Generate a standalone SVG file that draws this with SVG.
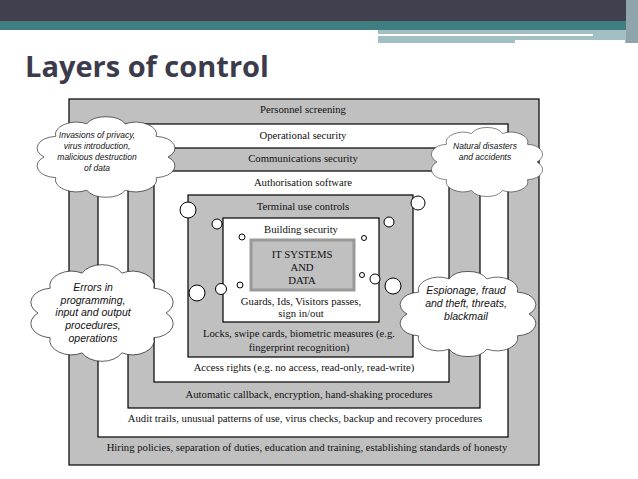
<svg xmlns="http://www.w3.org/2000/svg" width="638" height="479" viewBox="0 0 638 479">
<style>
.g{fill:#c0c0c0;stroke:#000;stroke-width:1.2}
.w{fill:#fff;stroke:#000;stroke-width:1.2}
.t{font-family:"Liberation Serif",serif;font-size:10.7px;fill:#111;text-anchor:middle}
.c{font-family:"Liberation Sans",Arial,sans-serif;font-style:italic;fill:#111;text-anchor:middle}
.cl{fill:#fff;stroke:#000;stroke-width:1.2}
.b{fill:#fff;stroke:#000;stroke-width:1}
</style>
<defs>
<path id="cloud" d="M100,0 A34,34 0 0 1 81,59 A34,34 0 0 1 31,95 A34,34 0 0 1 -31,95 A34,34 0 0 1 -81,59 A34,34 0 0 1 -100,0 A34,34 0 0 1 -81,-59 A34,34 0 0 1 -31,-95 A34,34 0 0 1 31,-95 A34,34 0 0 1 81,-59 A34,34 0 0 1 100,0 Z"/>
</defs>
<rect width="638" height="479" fill="#fff"/>
<g id="header">
<rect x="0" y="0" width="638" height="21" fill="#40404f"/>
<rect x="0" y="21" width="638" height="9" fill="#3f7f82"/>
<rect x="378" y="30" width="250" height="13" fill="#a2c0c4"/>
<rect x="378" y="34" width="215" height="2" fill="#fff"/>
<rect x="515" y="40" width="110" height="3" fill="#fff"/>
<rect x="626" y="0" width="12" height="43" fill="#8fa5ab"/>
<text x="25" y="77" font-family="'Open Sans','Liberation Sans',sans-serif" font-weight="bold" font-size="29" fill="#3b3b4b">Layers of control</text>
</g>
<g id="layers">
<rect class="g" x="69" y="99" width="470" height="366"/>
<rect class="w" x="98" y="124" width="410" height="313"/>
<rect class="g" x="128" y="148" width="352" height="260"/>
<rect class="w" x="154" y="171" width="295" height="211"/>
<rect class="g" x="188" y="195" width="225" height="162"/>
<rect class="w" x="223" y="218" width="156" height="104"/>
<rect x="251" y="240" width="103" height="50" fill="#c0c0c0" stroke="#999" stroke-width="3"/>
</g>
<g id="labels">
<text class="t" x="303" y="113">Personnel screening</text>
<text class="t" x="303" y="139">Operational security</text>
<text class="t" x="303" y="162">Communications security</text>
<text class="t" x="303" y="186">Authorisation software</text>
<text class="t" x="303" y="210">Terminal use controls</text>
<text class="t" x="301" y="233">Building security</text>
<text class="t" x="302" y="258">IT SYSTEMS</text>
<text class="t" x="302" y="271">AND</text>
<text class="t" x="302" y="284">DATA</text>
<text class="t" x="301" y="305">Guards, Ids, Visitors passes,</text>
<text class="t" x="301" y="317">sign in/out</text>
<text class="t" x="299" y="337">Locks, swipe cards,  biometric measures (e.g.</text>
<text class="t" x="299" y="351">fingerprint recognition)</text>
<text class="t" x="304" y="371">Access rights (e.g. no access, read-only, read-write)</text>
<text class="t" x="309" y="398">Automatic callback, encryption, hand-shaking procedures</text>
<text class="t" x="305" y="422">Audit trails, unusual patterns of use, virus checks, backup and recovery procedures</text>
<text class="t" x="307" y="451">Hiring policies, separation of duties, education and training, establishing standards of honesty</text>
</g>
<g id="bubbles">
<circle class="b" cx="188" cy="210" r="8"/>
<circle class="b" cx="418" cy="203" r="7"/>
<circle class="b" cx="217" cy="224" r="5"/>
<circle class="b" cx="389" cy="222" r="5"/>
<circle class="b" cx="242" cy="237" r="3"/>
<circle class="b" cx="364" cy="238" r="2.5"/>
<circle class="b" cx="197" cy="293" r="8"/>
<circle class="b" cx="221" cy="289" r="5.5"/>
<circle class="b" cx="240" cy="285" r="3"/>
<circle class="b" cx="362" cy="275" r="2.5"/>
<circle class="b" cx="375" cy="279" r="5"/>
<circle class="b" cx="393" cy="286" r="8"/>
</g>
<g id="cloud1">
<use href="#cloud" class="cl" vector-effect="non-scaling-stroke" transform="translate(106,157) scale(0.62,0.35)"/>
<text class="c" font-size="8.5" x="97" y="138">Invasions of privacy,</text>
<text class="c" font-size="8.5" x="97" y="149">virus introduction,</text>
<text class="c" font-size="8.5" x="97" y="160">malicious destruction</text>
<text class="c" font-size="8.5" x="97" y="171">of data</text>
</g>
<g id="cloud2">
<use href="#cloud" class="cl" vector-effect="non-scaling-stroke" transform="translate(487,162) scale(0.5,0.3)"/>
<text class="c" font-size="8.5" x="485" y="149">Natural disasters</text>
<text class="c" font-size="8.5" x="485" y="160">and accidents</text>
</g>
<g id="cloud3">
<use href="#cloud" class="cl" vector-effect="non-scaling-stroke" transform="translate(102,313) scale(0.64,0.42)"/>
<text class="c" font-size="10.5" x="93" y="291">Errors in</text>
<text class="c" font-size="10.5" x="93" y="304">programming,</text>
<text class="c" font-size="10.5" x="93" y="316">input and output</text>
<text class="c" font-size="10.5" x="93" y="329">procedures,</text>
<text class="c" font-size="10.5" x="93" y="342">operations</text>
</g>
<g id="cloud4">
<use href="#cloud" class="cl" vector-effect="non-scaling-stroke" transform="translate(468,314) scale(0.61,0.37)"/>
<text class="c" font-size="10.5" x="466" y="294">Espionage, fraud</text>
<text class="c" font-size="10.5" x="466" y="307">and theft, threats,</text>
<text class="c" font-size="10.5" x="466" y="320">blackmail</text>
</g>
</svg>
